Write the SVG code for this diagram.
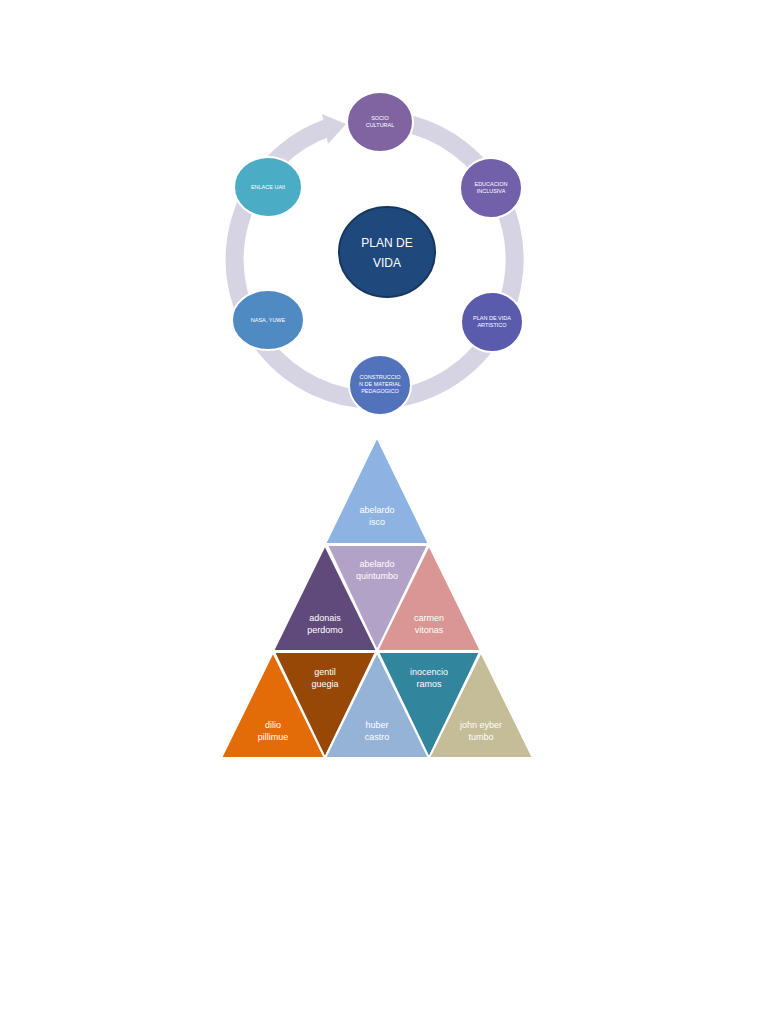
<svg xmlns="http://www.w3.org/2000/svg" width="768" height="1024" viewBox="0 0 768 1024">
<style>
text{font-family:"Liberation Sans",Arial,sans-serif;fill:#fff;text-anchor:middle}
.s{font-size:5.5px}
.t{font-size:9px}
.n{stroke:#fff;stroke-width:2}
.tri{stroke:#fff;stroke-width:2}
</style>
<rect width="768" height="1024" fill="#fff"/>
<g id="connectors">
<path d="M 400 122 A 140 140 0 1 1 330 127" fill="none" stroke="#D6D3E3" stroke-width="18"/>
<polygon points="322,114 346,124 328,144" fill="#D6D3E3"/>
</g>
<g id="center"><ellipse cx="387" cy="252" rx="48" ry="45" fill="#1F497D" stroke="#17375e" stroke-width="2"/><text x="387" y="247" style="font-size:12px">PLAN DE</text><text x="387" y="267" style="font-size:12px">VIDA</text></g>
<g id="socio"><ellipse class="n" cx="380" cy="122" rx="33" ry="30" fill="#8064A2"/><text class="s" x="380" y="120">SOCIO</text><text class="s" x="380" y="127">CULTURAL</text></g>
<g id="educacion"><ellipse class="n" cx="491" cy="188" rx="31" ry="30" fill="#7360AA"/><text class="s" x="491" y="186">EDUCACION</text><text class="s" x="491" y="193">INCLUSIVA</text></g>
<g id="artistico"><ellipse class="n" cx="492" cy="322" rx="31" ry="30" fill="#5B5BAE"/><text class="s" x="492" y="320">PLAN DE VIDA</text><text class="s" x="492" y="327">ARTISTICO</text></g>
<g id="construccion"><ellipse class="n" cx="380" cy="385" rx="31" ry="30" fill="#5272BC"/><text class="s" x="380" y="379">CONSTRUCCIO</text><text class="s" x="380" y="386">N DE MATERIAL</text><text class="s" x="380" y="393">PEDAGOGICO</text></g>
<g id="nasa"><ellipse class="n" cx="268" cy="320" rx="36" ry="30" fill="#4F8BC2"/><text class="s" x="268" y="322">NASA, YUWE</text></g>
<g id="enlace"><ellipse class="n" cx="268" cy="187" rx="34" ry="30" fill="#4BACC6"/><text class="s" x="268" y="189">ENLACE UAII</text></g>
<g id="t1"><polygon class="tri" points="377,437 325,544 429,544" fill="#8DB3E2"/><text class="t" x="377" y="513">abelardo</text><text class="t" x="377" y="525">isco</text></g>
<g id="t2"><polygon class="tri" points="327,545 428,545 377,651" fill="#B3A2C7"/><text class="t" x="377" y="567">abelardo</text><text class="t" x="377" y="579">quintumbo</text></g>
<g id="t3"><polygon class="tri" points="325,545 273,651 377,651" fill="#604A7B"/><text class="t" x="325" y="621">adonais</text><text class="t" x="325" y="633">perdomo</text></g>
<g id="t4"><polygon class="tri" points="429,545 377,651 481,651" fill="#D99694"/><text class="t" x="429" y="621">carmen</text><text class="t" x="429" y="633">vitonas</text></g>
<g id="t5"><polygon class="tri" points="273,652 221,758 325,758" fill="#E36C09"/><text class="t" x="273" y="728">dilio</text><text class="t" x="273" y="740">pillimue</text></g>
<g id="t6"><polygon class="tri" points="274,652 376,652 325,758" fill="#974806"/><text class="t" x="325" y="675">gentil</text><text class="t" x="325" y="687">guegia</text></g>
<g id="t7"><polygon class="tri" points="377,652 325,758 429,758" fill="#95B3D7"/><text class="t" x="377" y="728">huber</text><text class="t" x="377" y="740">castro</text></g>
<g id="t8"><polygon class="tri" points="378,652 480,652 429,758" fill="#31859C"/><text class="t" x="429" y="675">inocencio</text><text class="t" x="429" y="687">ramos</text></g>
<g id="t9"><polygon class="tri" points="481,652 429,758 533,758" fill="#C4BD97"/><text class="t" x="481" y="728">john eyber</text><text class="t" x="481" y="740">tumbo</text></g>
</svg>
